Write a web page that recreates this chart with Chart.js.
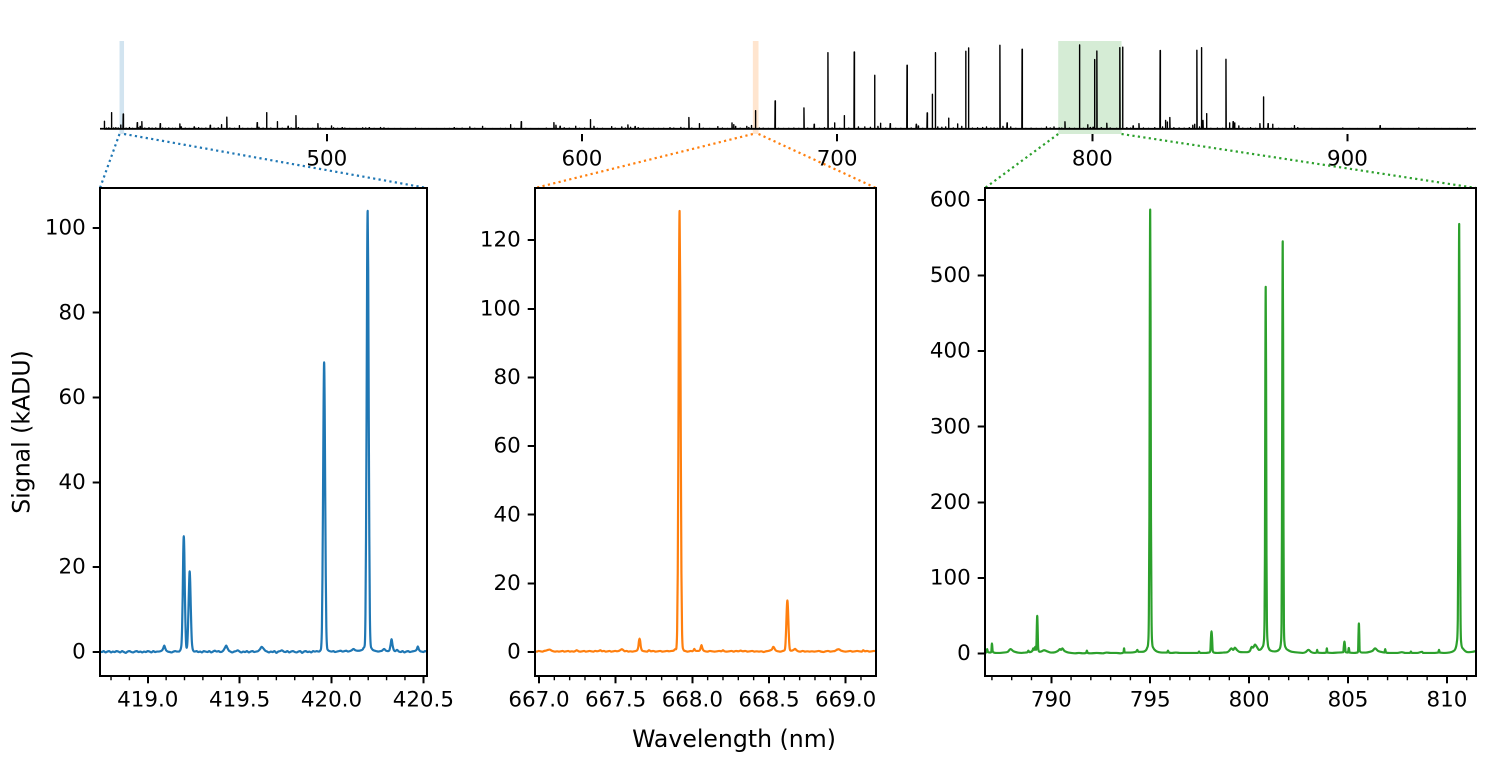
<!DOCTYPE html>
<html lang="en">
<head>
<meta charset="UTF-8">
<title>Spectrum</title>
<script src="https://cdn.jsdelivr.net/npm/chart.js"></script>
<style>
    body { margin: 0; background: white; overflow: hidden; }
    canvas { position: absolute; left: 0; top: 0; }
</style>
</head>
<body>
<canvas id="overview" width="1500" height="774"></canvas>
<canvas id="zoomBlue" width="1500" height="774"></canvas>
<canvas id="zoomOrange" width="1500" height="774"></canvas>
<canvas id="zoomGreen" width="1500" height="774"></canvas>
<script>
// overview lines: wavelength (nm) and height (kADU), ten per row
const ovWave = [
    412.8,413.6,414.5,415.6,416.4,417.3,418.2,419.2,420.2,421.3,
    422.6,423.8,425.7,426.1,426.8,427.5,428.6,430.3,431.5,432.9,
    434.7,435.6,436.7,438,439.5,440.6,442.4,442.9,444.5,446,
    448,448.7,449.7,451,452.6,454.3,455.8,457.4,458.7,460.8,
    462,463.8,465.7,467,469,470.6,472.7,473.4,475,476.4,
    478,480.6,482.5,484.8,486,487.9,488.8,490.5,492.6,494.5,
    496.5,497.4,499.6,501.8,502.6,504.2,506,507,509,511.5,
    514,515.2,516.6,518.5,521,522.4,524,526.5,529,531.6,
    534.7,537,540,543,546,548,549.9,551,553,556,
    558,561,562,565,568,570,572,573.5,576.2,578,
    580,583,586,589,589.8,591.4,593,595,597.5,599,
    601,603.3,604.7,606,608,611.6,613,615.6,617,618,
    619,620.8,622,624,626,628,630,632,634.5,636,
    638.7,640,641.9,643,646,647.5,650,653.2,655,657,
    658.8,659.5,660.2,662,664.6,665.4,666.4,668,669.5,671,
    673,675.7,677,679,681,683,685,687,688.5,691,
    693,695,696.4,698,699,701,702.8,704.5,706.7,708.3,
    710.8,713,714.7,716,717,719,720.8,723,725,727.4,
    729,731,731.8,733.5,735.3,737.3,738.5,739.4,741,742.5,
    743.7,745.5,747.2,748.8,750.4,751.5,753,755,757,758.5,
    760.2,761.5,762.8,763.8,765,766.6,768,770,772.5,774,
    776,778,780,782,783.5,785,787,788,789.3,791,
    793,795,796.5,798.2,799.2,800.3,800.9,801.8,803.5,805.7,
    807,809.5,810.8,811.9,813.5,815,816,818.3,820,822,
    824.5,826.6,827.5,828.7,829.4,830.4,832,834,836,838,
    839.4,840.1,841,842,842.8,843.4,844.8,846.5,849,851,
    852.4,853.8,855.2,855.8,857.4,859,861,862,864,865.7,
    867.1,868.9,870.7,873,875.5,878,879.2,880.5,883,886,
    889,892,895,898.2,901,904,907,910,912.8,915,
    918,921,924,927,928,931,934,937,940,943,
    947,949
];
const ovSignal = [
    54,6,8,114,7,9,6,27,104,5,
    10,5,44,8,18,51,6,9,5,7,
    37,6,5,7,5,5,35,14,5,4,
    14,5,9,5,6,26,5,7,30,82,
    6,5,23,5,5,5,44,12,5,114,
    6,51,5,19,6,93,9,5,4,5,
    37,6,5,21,8,5,9,6,4,4,
    8,7,9,4,10,8,4,3,4,3,
    6,3,3,3,3,4,9,4,5,14,
    5,18,4,3,4,4,30,4,51,4,
    3,3,5,44,26,19,7,5,19,5,
    6,65,18,5,5,16,5,14,6,28,
    12,17,8,5,4,5,4,5,9,6,
    11,5,80,6,37,5,4,16,6,4,
    42,30,18,5,18,10,24,128,6,5,
    4,196,5,4,5,6,5,147,6,33,
    5,8,533,6,42,5,93,6,538,14,
    14,12,375,18,40,6,37,5,5,445,
    6,33,20,5,112,242,533,14,12,14,
    75,6,35,18,543,566,6,8,10,14,
    6,6,5,585,18,42,14,5,557,4,
    5,4,4,14,6,14,6,6,50,6,
    5,587,5,29,10,12,485,545,8,40,
    6,5,568,572,9,6,21,37,7,5,
    9,548,14,60,48,80,9,6,5,8,
    26,33,550,14,568,60,107,5,6,5,
    487,42,51,42,21,6,5,9,5,37,
    224,37,33,5,4,5,23,9,4,4,
    3,3,3,7,3,3,3,3,23,3,
    3,4,3,3,7,3,3,3,3,3,
    7,3
];
const ovBaseWave = [411.1, 950.4];
const ovBaseSignal = [1.5, 1.5];

// left panel, ten per row
const blueWave = [
    418.74,418.75,418.76,418.77,418.78,418.79,418.80,418.81,418.82,418.83,
    418.84,418.85,418.86,418.87,418.88,418.89,418.90,418.91,418.92,418.93,
    418.94,418.95,418.96,418.97,418.98,418.99,419.00,419.01,419.02,419.03,
    419.04,419.05,419.06,419.07,419.08,419.085,419.09,419.095,419.10,419.11,
    419.12,419.13,419.14,419.15,419.16,419.17,419.175,419.18,419.184,419.187,
    419.190,419.193,419.196,419.199,419.202,419.205,419.208,419.212,419.216,419.219,
    419.222,419.225,419.228,419.231,419.234,419.237,419.240,419.244,419.248,419.255,
    419.265,419.275,419.285,419.295,419.305,419.315,419.325,419.335,419.345,419.355,
    419.365,419.375,419.385,419.395,419.405,419.412,419.42,419.427,419.434,419.442,
    419.45,419.46,419.47,419.48,419.49,419.50,419.51,419.52,419.53,419.54,
    419.55,419.56,419.57,419.58,419.59,419.60,419.61,419.62,419.63,419.64,
    419.65,419.66,419.67,419.68,419.69,419.70,419.71,419.72,419.73,419.74,
    419.75,419.76,419.77,419.78,419.79,419.80,419.81,419.82,419.83,419.84,
    419.85,419.86,419.87,419.88,419.89,419.90,419.91,419.92,419.93,419.94,
    419.944,419.948,419.951,419.954,419.957,419.96,419.963,419.966,419.969,419.972,
    419.976,419.98,419.985,419.99,420.0,420.01,420.02,420.03,420.04,420.05,
    420.06,420.07,420.08,420.09,420.10,420.11,420.12,420.13,420.14,420.15,
    420.16,420.17,420.175,420.181,420.185,420.188,420.191,420.194,420.197,420.2,
    420.203,420.206,420.209,420.213,420.218,420.225,420.235,420.245,420.255,420.265,
    420.275,420.287,420.297,420.307,420.315,420.321,420.327,420.333,420.34,420.347,
    420.357,420.367,420.377,420.387,420.397,420.407,420.417,420.427,420.437,420.447,
    420.457,420.464,420.47,420.476,420.483,420.49,420.50,420.51,420.52
];
const blueSignal = [
    0.1,0,0.2,-0.1,0.1,0.2,-0.1,0.1,0,0.2,
    0.1,-0.1,0.2,0,-0.2,0.1,0.2,0,-0.1,0.1,
    0.2,0,0.1,-0.1,0.1,0,0.2,0.1,-0.1,0.2,
    0,0.1,0.1,0.2,0.5,1.0,1.5,0.9,0.4,0.1,
    0,-0.1,0.1,0.2,0.1,0.1,0.3,0.8,2.2,6,
    13,23,27.3,23.5,14,7,2.5,1.0,2.5,6,
    11,16,19,16.5,11,6,2.5,0.8,0.3,0.1,
    0.2,0,0.1,-0.1,0.2,0.1,0,0.2,-0.1,0.1,
    0.3,0.1,0.2,0,0.1,0.4,1.0,1.5,0.9,0.3,
    0.1,-0.1,0.1,0.2,0.4,0.1,-0.1,0.1,0,0.2,
    -0.1,0.1,0.2,0,0.1,0.2,0.6,1.2,0.8,0.3,
    0.1,-0.1,0.1,0,0.2,-0.2,0.1,0.2,0.4,0.1,
    0,0.2,-0.1,0.1,0.2,0,-0.1,0.1,0.2,-0.2,
    0.1,0.2,0,0.1,-0.1,0.2,0.1,0.2,0.1,0.4,
    1.2,6,18,37,58,68.3,58,37,18,6,
    1.2,0.5,0.3,0.2,0.1,0.2,0,0.1,0.2,0.3,
    0.1,0.2,0.3,0.1,0.2,0.4,0.7,0.4,0.3,0.3,
    0.4,0.6,1.0,1.6,9,27,55,90,104,90,
    55,27,9,2,0.9,0.5,0.3,0.2,0.1,0.2,
    0.3,0.7,0.3,0.2,0.4,1.5,3,1.5,0.4,0.2,
    0.5,0.1,0,0.2,-0.1,0.1,0.2,0,0.1,0.2,
    0.3,0.6,1.3,0.6,0.2,0.1,0,0.2,0.1
];

// middle panel, ten per row
const orangeWave = [
    666.974,666.986,666.998,667.01,667.022,667.034,667.046,667.058,667.07,667.082,
    667.094,667.106,667.118,667.13,667.142,667.154,667.166,667.178,667.19,667.202,
    667.214,667.226,667.238,667.246,667.258,667.27,667.282,667.294,667.306,667.318,
    667.33,667.342,667.354,667.366,667.378,667.39,667.40,667.412,667.424,667.436,
    667.448,667.46,667.472,667.484,667.496,667.508,667.52,667.532,667.54,667.548,
    667.56,667.572,667.584,667.596,667.608,667.62,667.632,667.642,667.648,667.652,
    667.656,667.66,667.664,667.67,667.678,667.69,667.705,667.718,667.73,667.745,
    667.76,667.775,667.79,667.805,667.82,667.835,667.85,667.865,667.878,667.888,
    667.893,667.897,667.901,667.905,667.909,667.913,667.917,667.921,667.925,667.929,
    667.933,667.937,667.941,667.946,667.952,667.96,667.97,667.98,667.99,668.0,
    668.008,668.013,668.02,668.03,668.04,668.05,668.055,668.06,668.065,668.072,
    668.085,668.1,668.115,668.13,668.145,668.16,668.175,668.19,668.2,668.21,
    668.225,668.24,668.255,668.27,668.285,668.3,668.315,668.33,668.345,668.36,
    668.375,668.39,668.405,668.42,668.435,668.45,668.465,668.48,668.495,668.51,
    668.52,668.528,668.533,668.54,668.55,668.56,668.575,668.59,668.598,668.604,
    668.608,668.612,668.616,668.62,668.624,668.628,668.632,668.636,668.642,668.65,
    668.66,668.67,668.68,668.69,668.705,668.72,668.735,668.75,668.765,668.78,
    668.795,668.81,668.825,668.84,668.855,668.87,668.885,668.9,668.915,668.93,
    668.945,668.955,668.97,668.985,669.0,669.015,669.03,669.045,669.06,669.075,
    669.09,669.105,669.115,669.125,669.14,669.155,669.17,669.185,669.2
];
const orangeSignal = [
    0.2,0.1,0.3,0.2,0.1,0.3,0.4,0.6,0.7,0.4,
    0.2,0.1,0.2,0.1,0.2,0.3,0.1,0.2,0.3,0.1,
    0.2,0.1,0.3,0.5,0.2,0.1,0.2,0.3,0.1,0.2,
    0.3,0.2,0.1,0.3,0.2,0.3,0.5,0.2,0.3,0.1,
    0.2,0.3,0.1,0.2,0.3,0.2,0.3,0.6,0.8,0.6,
    0.2,0.3,0.1,0.2,0.1,0.2,0.3,0.6,1.6,3.2,
    3.9,3.2,1.6,0.6,0.3,0.2,0.1,0.5,0.2,0.3,
    0.1,0.2,0.3,0.1,0.2,0.3,0.2,0.3,0.4,0.8,
    0.8,1.6,6.5,23,60,106,128.5,106,60,23,
    6.5,1.6,0.8,0.4,0.3,0.2,0.1,0.2,0.3,0.2,
    0.5,0.9,0.4,0.3,0.3,0.6,1.3,2.0,1.2,0.5,
    0.2,0.1,0.3,0.2,0.1,0.2,0.3,0.2,0.5,0.2,
    0.1,0.2,0.3,0.1,0.3,0.2,0.4,0.2,0.3,0.1,
    0.2,0.3,0.1,0.2,0.1,0.2,0,0.2,0.3,0.5,
    0.8,1.5,1.3,0.7,0.3,0.2,0.1,0.3,0.4,0.8,
    2.7,7,12.4,15,12.4,7,2.7,0.8,0.4,0.4,
    0.6,0.9,0.5,0.2,0.1,0.3,0.1,0.2,0.1,0.2,
    0.1,0.2,0.3,0.1,0,0.2,0.3,0.1,0.2,0.3,
    0.7,0.8,0.4,0.2,0.1,0.2,0.3,0.1,0.2,0.3,
    0.2,0.1,0.5,0.2,0.3,0.1,0.2,0.3,0.2
];

// right panel, ten per row
const greenWave = [
    786.65,786.72,786.76,786.8,786.92,786.97,787.0,787.04,787.1,787.2,
    787.4,787.6,787.8,787.94,788.1,788.3,788.5,788.7,788.8,788.84,
    788.9,789.05,789.09,789.13,789.19,789.23,789.25,789.27,789.29,789.31,
    789.33,789.36,789.42,789.5,789.63,789.8,790.0,790.2,790.35,790.44,
    790.5,790.56,790.65,790.8,791.0,791.2,791.4,791.6,791.76,791.8,
    791.84,792.0,792.3,792.6,792.8,793.0,793.3,793.5,793.65,793.68,
    793.71,794.0,794.2,794.3,794.35,794.4,794.55,794.7,794.8,794.85,
    794.9,794.93,794.96,794.98,795.0,795.02,795.04,795.07,795.1,795.15,
    795.3,795.45,795.6,795.85,795.9,795.95,796.1,796.3,796.5,796.8,
    797.1,797.42,797.47,797.52,797.8,797.98,798.04,798.07,798.1,798.13,
    798.16,798.22,798.4,798.7,798.9,799.0,799.1,799.2,799.28,799.38,
    799.5,799.7,799.9,800.05,800.13,800.2,800.3,800.39,800.5,800.6,
    800.68,800.74,800.78,800.8,800.82,800.84,800.86,800.88,800.9,800.94,
    801.0,801.1,801.3,801.5,801.58,801.61,801.64,801.66,801.68,801.7,
    801.72,801.74,801.76,801.79,801.85,801.95,802.1,802.3,802.5,802.7,
    802.85,803.0,803.15,803.3,803.41,803.44,803.47,803.7,803.9,803.93,
    803.96,804.2,804.5,804.76,804.79,804.82,804.85,804.88,805.0,805.04,
    805.08,805.3,805.48,805.51,805.53,805.55,805.57,805.59,805.7,805.9,
    806.1,806.25,806.37,806.5,806.65,806.84,806.88,806.92,807.1,807.3,
    807.5,807.72,807.9,808.14,808.18,808.22,808.5,808.75,808.79,809.0,
    809.3,809.56,809.6,809.64,809.9,810.1,810.3,810.42,810.5,810.55,
    810.58,810.6,810.62,810.64,810.66,810.69,810.72,810.8,810.95,811.1,
    811.3,811.47
];
const greenSignal = [
    1,2,6,2,1.5,3,13.5,3,1.5,1,
    1,1.5,2.5,6,3,1.5,1,1.5,2,4,
    2,4,7,5,9,5,12,36,50,36,
    12,4,2.5,3,4.5,3,1.5,2,4,6,
    5,7,4,2,1,0.5,1,0.5,1,4,
    1,0.5,1,0.5,1.5,1,1,0.5,1.5,7,
    1.5,1.5,2,3,5,2.5,2.5,3,5,8,
    15,45,180,440,587,440,180,45,15,8,
    3.5,2,1.5,1.5,4,1.5,1,1.5,1,1,
    1,1,3,1,1,1.5,4,20,29.5,20,
    4,1.5,1,1.5,2,4,7,5,8,5,
    2.5,2,2,4,9,8,12,9,5,6,
    9,15,45,130,360,485,360,130,45,15,
    7,4,3,5,9,15,40,165,410,545,
    410,165,40,15,8,5,3,2,1.5,1,
    2,5,2,1,1.5,5,1.5,1,1.5,7,
    1.5,1,1.5,2,10,16,10,2,1.5,7.5,
    1.5,1,1.5,4,25,40,25,4,1.5,1.5,
    2.5,4,7,4,2.5,1.5,6,1.5,1,1,
    1,2,1,1,3,1,1,2.5,1,1,
    1,1.5,5,1.5,1,1.5,3,6,15,45,
    180,430,568,430,180,45,15,7,3,2,
    2.5,3.5
];

// tick labels
const ovTicks = [500, 600, 700, 800, 900];
const blueTicks = [419.0, 419.5, 420.0, 420.5];
const orangeTicks = [667.0, 667.5, 668.0, 668.5, 669.0];
const greenTicks = [790, 795, 800, 805, 810];
const blueMinor = [418.8,418.9,419.1,419.2,419.3,419.4,419.6,419.7,419.8,419.9,420.1,420.2,420.3,420.4];
const orangeMinor = [667.1,667.2,667.3,667.4,667.6,667.7,667.8,667.9,668.1,668.2,668.3,668.4,668.6,668.7,668.8,668.9,669.1];
const greenMinor = [787,788,789,791,792,793,794,796,797,798,799,801,802,803,804,806,807,808,809,811];
const blueY = [0, 20, 40, 60, 80, 100];
const orangeY = [0, 20, 40, 60, 80, 100, 120];
const greenY = [0, 100, 200, 300, 400, 500, 600];

const FONT = { family: "'DejaVu Sans'", size: 21.4 };
const LABEL_FONT = { family: "'DejaVu Sans'", size: 23.6 };
const LW = 2;

// plot boxes in page pixels
const panels = [
    { id: "zoomBlue", color: "#1f77b4", fill: "rgba(31,119,180,0.2)", left: 100, right: 427, xlim: [418.74, 420.52], ylim: [-5.66, 109.4], wave: blueWave, sig: blueSignal, xt: blueTicks, yt: blueY, minor: blueMinor, dec: 1 },
    { id: "zoomOrange", color: "#ff7f0e", fill: "rgba(255,127,14,0.2)", left: 535, right: 876, xlim: [666.974, 669.198], ylim: [-7, 135.2], wave: orangeWave, sig: orangeSignal, xt: orangeTicks, yt: orangeY, minor: orangeMinor, dec: 1 },
    { id: "zoomGreen", color: "#2ca02c", fill: "rgba(44,160,44,0.2)", left: 985, right: 1476, xlim: [786.65, 811.47], ylim: [-29.5, 615.6], wave: greenWave, sig: greenSignal, xt: greenTicks, yt: greenY, minor: greenMinor, dec: 0 }
];
const PANEL_TOP = 188, PANEL_BOTTOM = 676;

function toPoints(xs, ys) {
    return xs.map((x, i) => ({ x: x, y: ys[i] }));
}

// three points per line, so each one stands up from the baseline
function sticks(xs, ys) {
    const pts = [];
    xs.forEach((x, i) => {
        pts.push({ x: x - 0.1, y: 0 }, { x: x, y: ys[i] }, { x: x + 0.1, y: 0 });
    });
    return pts;
}

const framePlugin = {
    id: "frame",
    afterDraw(chart) {
        const a = chart.chartArea, c = chart.ctx, xs = chart.scales.x;
        c.save();
        c.strokeStyle = "black";
        c.lineWidth = LW;
        c.strokeRect(a.left, a.top, a.right - a.left, a.bottom - a.top);
        c.lineWidth = 1.4;
        c.beginPath();
        chart.options.plugins.frame.minor.forEach(v => {
            const px = xs.getPixelForValue(v);
            c.moveTo(px, a.bottom);
            c.lineTo(px, a.bottom + 4.2);
        });
        c.stroke();
        c.restore();
    }
};

const overviewPlugin = {
    id: "overviewMarks",
    beforeDatasetsDraw(chart) {
        const a = chart.chartArea, c = chart.ctx, xs = chart.scales.x;
        c.save();
        panels.forEach(p => {
            const l = xs.getPixelForValue(p.xlim[0]), r = xs.getPixelForValue(p.xlim[1]);
            c.fillStyle = p.fill;
            c.fillRect(l, a.top, r - l, a.bottom - a.top);
        });
        c.restore();
    },
    afterDraw(chart) {
        const a = chart.chartArea, c = chart.ctx, xs = chart.scales.x;
        c.save();
        c.lineWidth = 2.2;
        c.setLineDash([2.2, 3.3]);
        panels.forEach(p => {
            c.strokeStyle = p.color;
            c.beginPath();
            c.moveTo(xs.getPixelForValue(p.xlim[0]), a.bottom);
            c.lineTo(p.left, PANEL_TOP);
            c.moveTo(xs.getPixelForValue(p.xlim[1]), a.bottom);
            c.lineTo(p.right, PANEL_TOP);
            c.stroke();
        });
        c.setLineDash([]);
        c.fillStyle = "black";
        c.font = LABEL_FONT.size + "px " + LABEL_FONT.family;
        c.textAlign = "center";
        c.textBaseline = "middle";
        c.fillText("Wavelength (nm)", 734, 741);
        c.restore();
    }
};

new Chart(document.getElementById("overview"), {
    type: "scatter",
    data: {
        datasets: [
            { data: toPoints(ovBaseWave, ovBaseSignal), showLine: true, pointRadius: 0, borderColor: "black", borderWidth: 1.8 },
            { data: sticks(ovWave, ovSignal), showLine: true, pointRadius: 0, borderColor: "black", borderWidth: 1.4, borderJoinStyle: "round", tension: 0 }
        ]
    },
    plugins: [overviewPlugin],
    options: {
        responsive: false,
        animation: false,
        devicePixelRatio: 2,
        layout: { padding: { left: 100, right: 24, top: 41, bottom: 774 - 134 - 40 } },
        plugins: { legend: { display: false }, tooltip: { enabled: false } },
        scales: {
            x: {
                type: "linear", min: 411.1, max: 950.4,
                grid: { drawOnChartArea: false, tickLength: 7.3, tickWidth: LW, tickColor: "black" },
                border: { display: false },
                ticks: { color: "black", font: FONT, padding: 6, maxRotation: 0, autoSkip: false, callback: v => String(v) },
                afterBuildTicks: s => { s.ticks = ovTicks.map(v => ({ value: v })); },
                afterFit: s => { s.height = 40; s.paddingLeft = 0; s.paddingRight = 0; }
            },
            y: { display: false, min: -35, max: 615 }
        }
    }
});

panels.forEach((p, i) => {
    const axisW = i === 0 ? 100 : 60;
    new Chart(document.getElementById(p.id), {
        type: "scatter",
        // monotone keeps every point: the straight-line path merges points that share a pixel and notches the peaks
        data: { datasets: [{ data: toPoints(p.wave, p.sig), showLine: true, pointRadius: 0, borderColor: p.color, borderWidth: 2.2, borderJoinStyle: "round", cubicInterpolationMode: "monotone" }] },
        plugins: [framePlugin],
        options: {
            responsive: false,
            animation: false,
            devicePixelRatio: 2,
            layout: { padding: { left: p.left - axisW, right: 1500 - p.right, top: PANEL_TOP, bottom: 774 - PANEL_BOTTOM - 40 } },
            plugins: { legend: { display: false }, tooltip: { enabled: false }, frame: { minor: p.minor } },
            scales: {
                x: {
                    type: "linear", min: p.xlim[0], max: p.xlim[1],
                    grid: { drawOnChartArea: false, tickLength: 7.3, tickWidth: LW, tickColor: "black" },
                    border: { display: false },
                    ticks: { color: "black", font: FONT, padding: 5, maxRotation: 0, autoSkip: false, callback: v => v.toFixed(p.dec) },
                    afterBuildTicks: s => { s.ticks = p.xt.map(v => ({ value: v })); },
                    afterFit: s => { s.height = 40; s.paddingLeft = 0; s.paddingRight = 0; }
                },
                y: {
                    type: "linear", min: p.ylim[0], max: p.ylim[1],
                    grid: { drawOnChartArea: false, tickLength: 7.3, tickWidth: LW, tickColor: "black" },
                    border: { display: false },
                    ticks: { color: "black", font: FONT, padding: 7, labelOffset: 1, autoSkip: false, callback: v => String(v) },
                    title: { display: i === 0, text: "Signal (kADU)", color: "black", font: LABEL_FONT, padding: { top: 9, bottom: 0 } },
                    afterBuildTicks: s => { s.ticks = p.yt.map(v => ({ value: v })); },
                    afterFit: s => { s.width = axisW; s.paddingTop = 0; s.paddingBottom = 0; }
                }
            }
        }
    });
});
</script>
</body>
</html>
